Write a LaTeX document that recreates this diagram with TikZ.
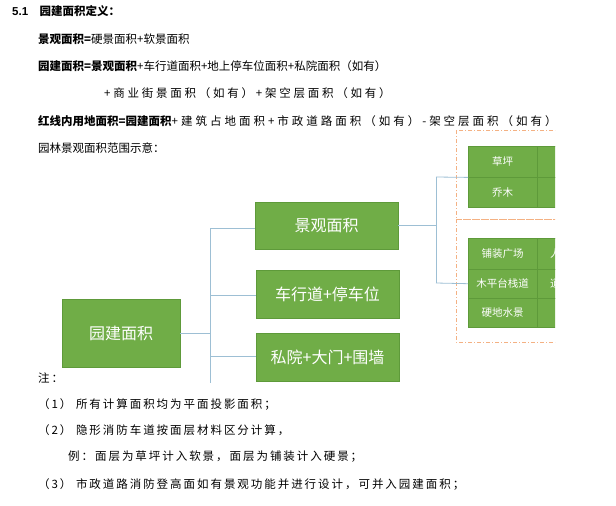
\documentclass[tikz,border=0pt]{standalone}
\usepackage{fontspec}
\setmainfont{Noto Sans CJK SC}
\newfontfamily\lat{Liberation Sans}
\definecolor{gr}{HTML}{70AD47}
\definecolor{grd}{HTML}{5E9A3A}
\definecolor{ln}{HTML}{9DBFD4}
\definecolor{dsh}{HTML}{F4B183}
\tikzset{
 gbox/.style={draw=grd,fill=gr,text=white,inner sep=0pt,font=\fontsize{16}{18}\selectfont},
 cell/.style={draw=grd,fill=gr,text=white,inner sep=0pt,font=\fontsize{10.5}{12}\selectfont},
 conn/.style={draw=ln,line width=0.8pt},
 txt/.style={anchor=west,inner sep=0pt,font=\fontsize{11.5}{13}\selectfont},
 ntxt/.style={anchor=west,inner sep=0pt,font=\fontsize{11.5}{13}\selectfont\addfontfeatures{LetterSpace=17}},
 dbox/.style={draw=dsh,line width=0.8pt,dash pattern=on 4pt off 2pt on 1pt off 2pt}
}
\begin{document}
\begin{tikzpicture}[x=1pt,y=-1pt]
\useasboundingbox (0,0) rectangle (616,506);
\node[txt,font=\bfseries\fontsize{11.5}{13}\selectfont] (t0) at (12,11) {{\lat 5.1}\quad 园建面积定义：};
\node[txt] (t1) at (38,39) {\textbf{景观面积=}硬景面积+软景面积};
\node[txt] (t2) at (38,66) {\textbf{园建面积=景观面积}+车行道面积+地上停车位面积+私院面积（如有）};
\node[txt,font=\fontsize{11.5}{13}\selectfont\addfontfeatures{LetterSpace=24}] (t3) at (104,93) {+商业街景面积（如有）+架空层面积（如有）};
\node[txt] (t4) at (38,121) {\textbf{红线内用地面积=园建面积}{\addfontfeatures{LetterSpace=26}+建筑占地面积+市政道路面积（如有）-架空层面积（如有）}};
\node[txt] (t5) at (38,148) {园林景观面积范围示意：};
% main tree
\node[gbox,minimum width=118,minimum height=68] (root) at (121,333) {园建面积};
\node[gbox,minimum width=143,minimum height=47] (b1) at (326.5,225.5) {景观面积};
\node[gbox,minimum width=143,minimum height=48] (b2) at (327.5,294) {车行道+停车位};
\node[gbox,minimum width=143,minimum height=48] (b3) at (327.5,357) {私院+大门+围墙};
\coordinate (v1) at (210,228);
\coordinate (v2) at (210,383);
\draw[conn] (root.east) -- (210,333);
\draw[conn] (v1) -- (v2);
\draw[conn] (v1) -- (b1.west|-v1);
\draw[conn] (210,295) -- (b2.west|-210,295);
\draw[conn] (210,356) -- (b3.west|-210,356);
% right part clipped
\begin{scope}
\clip (420,120) rectangle (555,350);
\draw[dbox] (456,130) rectangle (600,219);
\draw[dbox] (456,219) rectangle (600,342);
\node[cell,minimum width=69,minimum height=31,anchor=north west] (c1) at (468,146) {草坪};
\node[cell,minimum width=69,minimum height=30,anchor=north west] (c2) at (468,177) {乔木};
\node[cell,minimum width=40,minimum height=31,anchor=north west] (d1) at (537,146) {};
\node[cell,minimum width=40,minimum height=30,anchor=north west] (d2) at (537,177) {};
\node[cell,minimum width=69,minimum height=31,anchor=north west] (c3) at (468,238) {铺装广场};
\node[cell,minimum width=69,minimum height=29,anchor=north west] (c4) at (468,269) {木平台栈道};
\node[cell,minimum width=69,minimum height=29,anchor=north west] (c5) at (468,298) {硬地水景};
\node[cell,minimum width=40,minimum height=31,anchor=north west] (d3) at (537,238) {};
\node[cell,minimum width=40,minimum height=29,anchor=north west] (d4) at (537,269) {};
\node[cell,minimum width=40,minimum height=29,anchor=north west] (d5) at (537,298) {};
\node[cell,fill=none,draw=none,anchor=west] at (550,253.5) {人};
\node[cell,fill=none,draw=none,anchor=west] at (550,283.5) {道};
\end{scope}
\coordinate (w1) at (436,177);
\coordinate (w2) at (436,283);
\draw[conn] (b1.east) -- (436,225.5);
\draw[conn] (w1) -- (w2);
\draw[conn] (w1) -- (c1.south west);
\draw[conn] (w2) -- (c4.west);
% notes
\node[ntxt] (n0) at (38,378) {注：};
\node[ntxt] (n1) at (38,404) {（1） 所有计算面积均为平面投影面积；};
\node[ntxt] (n2) at (38,430) {（2） 隐形消防车道按面层材料区分计算，};
\node[ntxt] (n3) at (68,457) {例：面层为草坪计入软景，面层为铺装计入硬景；};
\node[ntxt] (n4) at (38,484) {（3） 市政道路消防登高面如有景观功能并进行设计，可并入园建面积；};
\end{tikzpicture}
\end{document}
